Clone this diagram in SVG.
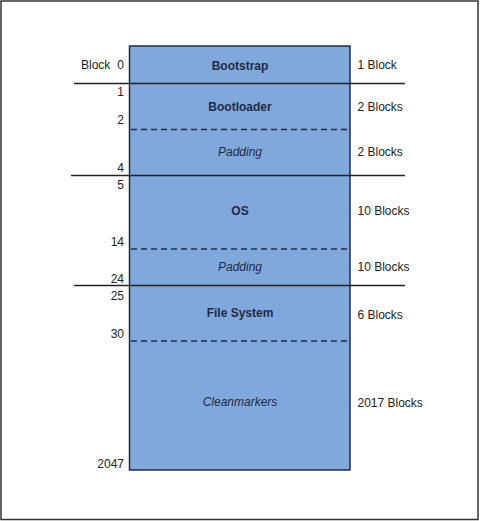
<svg xmlns="http://www.w3.org/2000/svg" width="480" height="521" viewBox="0 0 480 521">
<style>
text{font-family:"Liberation Sans",Arial,sans-serif;font-size:12px}
.lbl{fill:#1f2b45;text-anchor:middle}
.b{font-weight:bold}
.i{font-style:italic}
.num{fill:#222;text-anchor:end}
.sz{fill:#222}
.solid{stroke:#222;stroke-width:1.3;fill:none}
.dash{stroke:#1f2b45;stroke-width:1.3;stroke-dasharray:6 4;fill:none}
</style>
<rect x="1" y="1" width="477" height="518.5" fill="#fff" stroke="#333" stroke-width="1.5"/>
<g id="memory">
<rect x="129.5" y="46" width="220.5" height="424" fill="#80a8dc" stroke="#1f2b45" stroke-width="1.5"/>
</g>
<g id="connectors">
<line class="solid" x1="74" y1="83.5" x2="405" y2="83.5"/>
<line class="solid" x1="71" y1="175.5" x2="405" y2="175.5"/>
<line class="solid" x1="74" y1="285.5" x2="405" y2="285.5"/>
<line class="dash" x1="131" y1="129.5" x2="349" y2="129.5"/>
<line class="dash" x1="131" y1="249" x2="349" y2="249"/>
<line class="dash" x1="131" y1="341" x2="349" y2="341"/>
</g>
<g id="bootstrap"><text class="lbl b" x="240" y="70">Bootstrap</text></g>
<g id="bootloader"><text class="lbl b" x="240" y="110.5">Bootloader</text></g>
<g id="padding1"><text class="lbl i" x="240" y="156">Padding</text></g>
<g id="os"><text class="lbl b" x="240" y="215">OS</text></g>
<g id="padding2"><text class="lbl i" x="240" y="270.5">Padding</text></g>
<g id="filesystem"><text class="lbl b" x="240" y="317">File System</text></g>
<g id="cleanmarkers"><text class="lbl i" x="240" y="405.5">Cleanmarkers</text></g>
<g id="numbers">
<text class="sz" x="81" y="68.5">Block</text>
<text class="num" x="124" y="68.5">0</text>
<text class="num" x="124" y="95.5">1</text>
<text class="num" x="124" y="124">2</text>
<text class="num" x="124" y="172">4</text>
<text class="num" x="124" y="188.5">5</text>
<text class="num" x="124" y="246">14</text>
<text class="num" x="124" y="282.5">24</text>
<text class="num" x="124" y="300">25</text>
<text class="num" x="124" y="338">30</text>
<text class="num" x="124" y="468">2047</text>
</g>
<g id="sizes">
<text class="sz" x="357.5" y="68.5">1 Block</text>
<text class="sz" x="357.5" y="110.5">2 Blocks</text>
<text class="sz" x="357.5" y="156">2 Blocks</text>
<text class="sz" x="357.5" y="215">10 Blocks</text>
<text class="sz" x="357.5" y="270.5">10 Blocks</text>
<text class="sz" x="357.5" y="319">6 Blocks</text>
<text class="sz" x="357.5" y="406.5">2017 Blocks</text>
</g>
</svg>
